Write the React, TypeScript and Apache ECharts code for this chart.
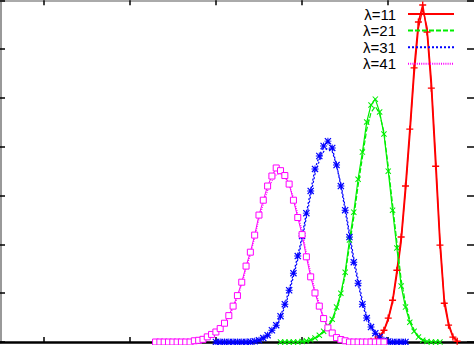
import React, { useEffect, useRef } from "react";
import * as echarts from "echarts";

// x positions are integer indices; each series is listed from its start index
const redStart = 76;
const redMarks = [0.0003, 0.0009, 0.0024, 0.0048, 0.0098, 0.0171, 0.0294, 0.043, 0.0639, 0.0872, 0.1123, 0.1311, 0.1381, 0.127, 0.104, 0.072, 0.0397, 0.0159, 0.0069, 0.002, 0.0003];
const redLine = [0.0002, 0.0008, 0.0021, 0.0044, 0.009, 0.016, 0.0275, 0.0408, 0.061, 0.084, 0.109, 0.1285, 0.1365, 0.129, 0.1075, 0.0765, 0.043, 0.018, 0.0078, 0.0024, 0.0005];

const greenStart = 55;
const greenMarks = [0, 0, 0, 0, 0, 0.0002, 0.0005, 0.0009, 0.0016, 0.0028, 0.0044, 0.0065, 0.0093, 0.0143, 0.02, 0.0286, 0.0418, 0.0532, 0.0667, 0.0778, 0.0901, 0.0971, 0.0995, 0.0942, 0.0852, 0.07, 0.054, 0.0385, 0.0229, 0.0143, 0.0081, 0.0044, 0.002, 0.0007, 0.0002, 0, 0, 0];
const greenLineStart = 60;
const greenLine = [0.0002, 0.0004, 0.0008, 0.0014, 0.0025, 0.004, 0.006, 0.0088, 0.0133, 0.019, 0.0272, 0.0395, 0.051, 0.064, 0.0755, 0.087, 0.094, 0.0965, 0.0935, 0.086, 0.072, 0.0565, 0.041, 0.0255, 0.016, 0.0092, 0.005, 0.0024, 0.0009, 0.0003];

const blueStart = 40;
const blueMarks = [0, 0, 0, 0, 0, 0, 0, 0, 0.0001, 0.0003, 0.0007, 0.0016, 0.0028, 0.0048, 0.0069, 0.0106, 0.0155, 0.0212, 0.0282, 0.0352, 0.0434, 0.0528, 0.0619, 0.0709, 0.0762, 0.0803, 0.0823, 0.0795, 0.0725, 0.0639, 0.054, 0.043, 0.0327, 0.0241, 0.0155, 0.0098, 0.0061, 0.0036, 0.002, 0.0007, 0.0002, 0, 0, 0, 0];
const blueLineStart = 48;
const blueLine = [0.0001, 0.0002, 0.0006, 0.0014, 0.0025, 0.0043, 0.0063, 0.0098, 0.0145, 0.02, 0.0268, 0.0337, 0.0418, 0.051, 0.06, 0.0688, 0.0742, 0.078, 0.0795, 0.078, 0.0725, 0.0648, 0.0555, 0.0447, 0.0345, 0.0258, 0.017, 0.0108, 0.0068, 0.004, 0.0022, 0.0008, 0.0003, 0];

const magentaStart = 26;
const magentaMarks = [0, 0, 0, 0, 0, 0, 0, 0, 0, 0.0005, 0.0007, 0.0011, 0.0021, 0.0031, 0.0041, 0.0055, 0.0077, 0.0108, 0.0147, 0.019, 0.0245, 0.0311, 0.0368, 0.0438, 0.052, 0.0581, 0.0639, 0.068, 0.0713, 0.0702, 0.0682, 0.0647, 0.0581, 0.051, 0.044, 0.0349, 0.0267, 0.0201, 0.0147, 0.0096, 0.0058, 0.0037, 0.0018, 0.001, 0.0005, 0, 0, 0, 0, 0, 0, 0, 0, 0];
const magentaLineStart = 35;
const magentaLine = [0.0004, 0.0006, 0.001, 0.0019, 0.0029, 0.0039, 0.0052, 0.0073, 0.0102, 0.014, 0.0182, 0.0236, 0.03, 0.0358, 0.0428, 0.0505, 0.0565, 0.062, 0.066, 0.0685, 0.069, 0.0675, 0.0645, 0.059, 0.0525, 0.0455, 0.0365, 0.0283, 0.0213, 0.0157, 0.0104, 0.0064, 0.0041, 0.0021, 0.0011, 0.0006];

const legendNames = ["λ=11", "λ=21", "λ=31", "λ=41"];
const xTicks = [0, 20, 40, 60, 80];

const PLUS = "path://M4,0H6V4H10V6H6V10H4V6H0V4H4Z";
const CROSS = "path://M0,1.2L1.2,0L10,8.8L8.8,10Z M8.8,0L10,1.2L1.2,10L0,8.8Z";
const STAR = "path://M4.3,0H5.7V10H4.3Z M0,4.3H10V5.7H0Z M0,1.2L1.2,0L10,8.8L8.8,10Z M8.8,0L10,1.2L1.2,10L0,8.8Z";

const toPairs = (start: number, vals: number[]) => vals.map((v, i) => [start + i, v]);

export default function App() {
  const ref = useRef<HTMLDivElement>(null);
  useEffect(() => {
    document.body.style.margin = "0";
    if (!ref.current) return;
    const chart = echarts.init(ref.current, null, { renderer: "svg" });
    const xCommon = {
      type: "value",
      min: -10.1,
      max: 99.9,
      axisLabel: { show: false },
      splitLine: { show: false },
    };
    const tick = (len: number) => ({
      show: true,
      inside: true,
      length: len,
      customValues: xTicks,
      lineStyle: { color: "#000", width: 1.5 },
    });
    const line = (name: string, start: number, vals: number[], color: string, type: any, width: number) => ({
      name,
      type: "line",
      data: toPairs(start, vals),
      showSymbol: false,
      symbol: "none",
      itemStyle: { color, opacity: 0 },
      lineStyle: { color, width, type },
      silent: true,
    });
    const marks = (name: string, start: number, vals: number[], color: string, symbol: string, size: number, type: any, width: number, hollow = false) => ({
      name,
      type: "line",
      data: toPairs(start, vals),
      symbol,
      symbolSize: size,
      showAllSymbol: true,
      itemStyle: hollow ? { color: "#fff", borderColor: color, borderWidth: 1 } : { color },
      lineStyle: { color, width, type },
      silent: true,
    });
    chart.setOption({
      animation: false,
      backgroundColor: "#fff",
      grid: { left: 0, right: -1, top: 0.3, bottom: 3, containLabel: false },
      legend: {
        orient: "vertical",
        right: 14,
        top: 1,
        align: "right",
        itemWidth: 46,
        itemHeight: 10,
        itemGap: 0.6,
        selectedMode: false,
        data: legendNames.map((n) => ({ name: n, itemStyle: { opacity: 0 } })),
        textStyle: { fontFamily: "Liberation Sans", fontSize: 15, color: "#000", lineHeight: 16, padding: [0, 7, 0, 0] },
      },
      xAxis: [
        { ...xCommon, position: "bottom", axisLine: { show: true, onZero: false, lineStyle: { color: "#000", width: 2.5 } }, axisTick: tick(5) },
        { ...xCommon, position: "top", axisLine: { show: true, onZero: false, lineStyle: { color: "#aaa", width: 3 } }, axisTick: tick(5) },
      ],
      yAxis: [
        { type: "value", min: 0, max: 0.14, interval: 0.02, position: "left", axisLabel: { show: false }, splitLine: { show: false }, axisLine: { show: true, onZero: false, lineStyle: { color: "#999", width: 3 } }, axisTick: { show: true, inside: true, length: 5, lineStyle: { color: "#000", width: 1.5 } } },
        { type: "value", min: 0, max: 0.14, interval: 0.02, position: "right", axisLabel: { show: false }, splitLine: { show: false }, axisLine: { show: false, onZero: false }, axisTick: { show: true, inside: true, length: 7, lineStyle: { color: "#000", width: 1.5 } } },
      ],
      series: [
        line("λ=11", redStart, [], "#ff0000", "solid", 1.5),
        line("λ=21", greenStart, [], "#00ee00", [5, 2], 1.5),
        line("λ=31", blueStart, [], "#0000ff", [2, 2], 1.5),
        line("λ=41", magentaStart, [], "#ff00ff", [1, 1.2], 1.5),
        line("r2", redStart, redLine, "#ff0000", "solid", 1.3),
        marks("r1", redStart, redMarks, "#ff0000", PLUS, 7, "solid", 1.5),
        line("g2", greenLineStart, greenLine, "#00ee00", [5, 2], 1.2),
        marks("g1", greenStart, greenMarks, "#00ee00", CROSS, 6, "solid", 1.2),
        line("b2", blueLineStart, blueLine, "#0000ff", [2, 2], 1.2),
        marks("b1", blueStart, blueMarks, "#0000ff", STAR, 7, [2, 2], 1.3),
        line("m2", magentaLineStart, magentaLine, "#ff00ff", [1, 1.2], 1.2),
        marks("m1", magentaStart, magentaMarks, "#ff00ff", "rect", 6, "solid", 1, true),
      ],
    });
    return () => chart.dispose();
  }, []);
  return <div ref={ref} style={{ position: "fixed", left: 0, top: 0, width: 474, height: 345 }} />;
}
